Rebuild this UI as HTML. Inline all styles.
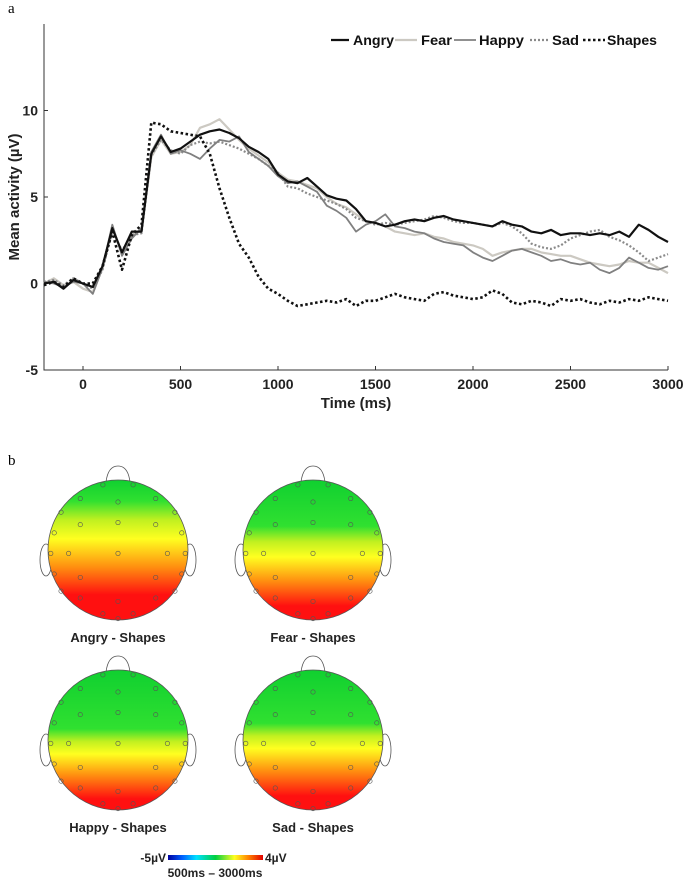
<!DOCTYPE html>
<html><head><meta charset="utf-8"><style>
body{margin:0;background:#fff;width:685px;height:883px;overflow:hidden;font-family:"Liberation Sans",Arial,sans-serif}
svg text{font-family:"Liberation Sans",Arial,sans-serif}
</style></head><body>
<svg id="root" width="685" height="883" viewBox="0 0 685 883">
<text x="8" y="13" font-size="15" style="font-family:'Liberation Serif',serif">a</text>
<text x="8" y="465" font-size="15" style="font-family:'Liberation Serif',serif">b</text>
<g id="chart"></g>
<g id="topos"></g>
</svg>
<script>
const times=[-200,-150,-100,-50,0,50,100,150,200,250,300,350,400,450,500,550,600,650,700,750,800,850,900,950,1000,1050,1100,1150,1200,1250,1300,1350,1400,1450,1500,1550,1600,1650,1700,1750,1800,1850,1900,1950,2000,2050,2100,2150,2200,2250,2300,2350,2400,2450,2500,2550,2600,2650,2700,2750,2800,2850,2900,2950,3000];
const angry=[0,0.1,-0.3,0.2,0,-0.2,1,3.2,1.8,3,3,7.5,8.5,7.6,7.8,8.2,8.6,8.8,8.9,8.7,8.4,7.9,7.6,7.2,6.3,5.9,5.8,6.1,5.6,5.1,4.9,4.8,4.3,3.6,3.5,3.3,3.4,3.6,3.7,3.6,3.8,3.9,3.7,3.6,3.5,3.4,3.3,3.6,3.4,3.3,3.0,2.9,3.1,2.8,2.9,2.9,2.8,2.9,2.8,3.0,2.7,3.4,3.1,2.7,2.4];
const fear=[0,0.3,-0.1,0.1,-0.3,-0.5,0.9,3.3,1.7,2.8,3.1,7.3,8.3,7.5,7.6,8.0,9.0,9.2,9.5,8.9,8.3,7.8,7.4,7.0,6.4,6.0,5.9,5.7,5.5,5.0,4.6,4.4,4.0,3.6,3.5,3.3,3.0,2.9,2.8,2.9,2.7,2.6,2.4,2.3,2.2,2.0,1.6,1.8,1.9,2.0,2.0,1.8,1.7,1.6,1.6,1.4,1.2,1.1,1.0,1.1,1.3,1.2,1.2,0.9,0.6];
const happy=[0.1,0,-0.2,0.1,0,-0.6,0.9,3.4,1.6,2.6,3.2,7.6,8.6,7.5,7.7,7.5,7.2,7.8,8.3,8.2,8.5,7.6,7.2,6.8,6.2,5.8,5.9,5.6,5.3,4.5,4.2,3.8,3.0,3.4,3.6,4.0,3.3,3.2,3.0,2.9,2.6,2.4,2.3,2.2,1.8,1.5,1.3,1.6,1.9,2.0,1.8,1.6,1.3,1.4,1.2,1.1,1.2,0.8,0.6,0.9,1.5,1.2,0.9,0.8,1.0];
const sad=[0.1,0.2,-0.1,0.3,0,-0.3,0.8,3.0,1.9,2.8,2.9,7.4,8.3,7.7,7.5,8.0,8.2,8.1,8.2,8.0,7.8,7.5,7.2,6.8,6.4,5.6,5.5,5.2,5.0,4.8,4.6,4.3,3.8,3.6,3.4,3.5,3.4,3.5,3.6,3.7,3.9,3.8,3.6,3.5,3.5,3.4,3.3,3.5,3.3,2.9,2.3,2.1,2.0,2.2,2.6,2.8,3.0,3.1,2.7,2.5,2.2,1.8,1.3,1.5,1.7];
const shapes=[-0.1,0.1,-0.2,0.3,0,0,1,3.0,0.8,2.8,3.4,9.3,9.2,8.8,8.7,8.6,8.5,7.5,5.5,3.8,2.3,1.5,0.4,-0.3,-0.6,-1.0,-1.3,-1.2,-1.1,-1.0,-1.1,-0.9,-1.3,-1.0,-1.0,-0.8,-0.6,-0.8,-0.9,-1.0,-0.6,-0.5,-0.7,-0.8,-0.9,-0.8,-0.4,-0.6,-1.1,-1.2,-1.0,-1.1,-1.3,-0.9,-1.0,-0.9,-1.1,-1.2,-1.0,-1.1,-0.9,-1.0,-0.8,-0.9,-1.0];
const xTicks=[0,500,1000,1500,2000,2500,3000];
const yTicks=[-5,0,5,10];
const seriesNames=["Angry","Fear","Happy","Sad","Shapes"];

const NS="http://www.w3.org/2000/svg";
function mk(tag,attrs,parent){const e=document.createElementNS(NS,tag);for(const k in attrs)e.setAttribute(k,attrs[k]);parent.appendChild(e);return e;}
const x0=44,x1=668,yTop=24,yBot=370;
const xs=t=>x0+(t+200)*(x1-x0)/3200;
const ys=v=>yBot-(v+5)*(yBot-yTop)/20;
const chart=document.getElementById('chart');
let ax=mk('path',{d:`M${x0},${yTop}V${yBot}H${x1}`,stroke:'#333',fill:'none','stroke-width':1},chart);


xTicks.forEach(t=>{const l=mk('line',{x1:xs(t),x2:xs(t),y1:yBot,y2:yBot-4,stroke:'#333'},chart);


const tx=mk('text',{x:xs(t),y:yBot+19,'text-anchor':'middle','font-size':14,'font-weight':'bold',fill:'#222'},chart);tx.textContent=t;

});
yTicks.forEach(v=>{const l=mk('line',{x1:x0,x2:x0+4,y1:ys(v),y2:ys(v),stroke:'#333'},chart);


const tx=mk('text',{x:x0-6,y:ys(v)+5,'text-anchor':'end','font-size':14,'font-weight':'bold',fill:'#222'},chart);tx.textContent=v;

});
let xt=mk('text',{x:356,y:408,'text-anchor':'middle','font-size':15,'font-weight':'bold',fill:'#222'},chart);xt.textContent='Time (ms)';


let yt=mk('text',{x:0,y:0,transform:'translate(19,197) rotate(-90)','text-anchor':'middle','font-size':15,'font-weight':'bold',fill:'#222'},chart);yt.textContent='Mean activity (µV)';


const styles=[{c:'#111',w:2.2,d:''},{c:'#ccc9c2',w:2.2,d:''},{c:'#808080',w:1.8,d:''},{c:'#8a8a8a',w:2.2,d:'2,2'},{c:'#111',w:2.6,d:'2.5,2.5'}];
const data=[angry,fear,happy,sad,shapes];
[1,3,2,0,4].forEach(i=>{const d=data[i].map((v,j)=>(j?'L':'M')+xs(times[j]).toFixed(1)+','+ys(v).toFixed(1)).join('');
const p=mk('path',{d,fill:'none',stroke:styles[i].c,'stroke-width':styles[i].w,'stroke-dasharray':styles[i].d,'stroke-linejoin':'round'},chart);

});
const legL=[[331,349,353,41],[395,417,421,31],[454,476,479,45],[530,549,552,27],[583,605,607,50]];
seriesNames.forEach((n,i)=>{const g=mk('g',{},chart);


const L=legL[i];
mk('line',{x1:L[0],x2:L[1],y1:40,y2:40,stroke:styles[i].c,'stroke-width':styles[i].w,'stroke-dasharray':styles[i].d},g);
const t=mk('text',{x:L[2],y:45,'font-size':14,'font-weight':'bold',fill:'#111',textLength:L[3],lengthAdjust:'spacingAndGlyphs'},g);t.textContent=n;});

// topomaps
const topos=document.getElementById('topos');
const defs=mk('defs',{},topos);
const grads=[[0.15,0.42,0.62,0.82],[0.33,0.55,0.72,0.9],[0.42,0.6,0.75,0.92],[0.38,0.56,0.72,0.9]];
grads.forEach((g,i)=>{const lg=mk('linearGradient',{id:'g'+i,x1:0,y1:0,x2:0,y2:1},defs);
[['#10d030',0],['#30e030',g[0]],['#c0f020',(g[0]+g[1])/2],['#ffff20',g[1]],['#ff9010',g[2]],['#ff1010',g[3]]].forEach(s=>mk('stop',{offset:s[1],'stop-color':s[0]},lg));});
const heads=[[118,550,'Angry - Shapes'],[313,550,'Fear - Shapes'],[118,740,'Happy - Shapes'],[313,740,'Sad - Shapes']];
const elec=[[-0.22,-0.95],[0.22,-0.95],[-0.55,-0.75],[0,-0.7],[0.55,-0.75],[-0.83,-0.55],[0.83,-0.55],[-0.55,-0.37],[0,-0.4],[0.55,-0.37],[-0.93,-0.25],[0.93,-0.25],[-0.98,0.05],[-0.72,0.05],[0,0.05],[0.72,0.05],[0.98,0.05],[-0.93,0.35],[-0.55,0.4],[0.55,0.4],[0.93,0.35],[-0.83,0.6],[0.83,0.6],[-0.55,0.7],[0,0.75],[0.55,0.7],[-0.22,0.93],[0.22,0.93],[0,1]];
heads.forEach((h,i)=>{const [cx,cy,lab]=h,r=70;const g=mk('g',{},topos);


mk('path',{d:`M${cx-12},${cy-r+2}Q${cx-10},${cy-r-14} ${cx},${cy-r-14}Q${cx+10},${cy-r-14} ${cx+12},${cy-r+2}`,fill:'#fff',stroke:'#555','stroke-width':0.8},g);
mk('ellipse',{cx:cx-r-2,cy:cy+10,rx:6,ry:16,fill:'#fff',stroke:'#555','stroke-width':0.8},g);
mk('ellipse',{cx:cx+r+2,cy:cy+10,rx:6,ry:16,fill:'#fff',stroke:'#555','stroke-width':0.8},g);
mk('circle',{cx,cy,r,fill:`url(#g${i})`,stroke:'#555','stroke-width':0.8},g);
elec.forEach(e=>mk('circle',{cx:cx+e[0]*r*0.98,cy:cy+e[1]*r*0.98,r:2.2,fill:'none',stroke:'#555','stroke-width':0.6},g));
const t=mk('text',{x:cx,y:cy+92,'text-anchor':'middle','font-size':13,'font-weight':'bold',fill:'#222'},g);t.textContent=lab;});
// colorbar
const cb=mk('linearGradient',{id:'cb',x1:0,y1:0,x2:1,y2:0},defs);
[['#0000a0',0],['#0060ff',0.15],['#00e0ff',0.3],['#00d040',0.5],['#ffff20',0.7],['#ff8000',0.85],['#e00000',1]].forEach(s=>mk('stop',{offset:s[1],'stop-color':s[0]},cb));
const cbg=mk('g',{},topos);


mk('rect',{x:168,y:855,width:95,height:5,fill:'url(#cb)'},cbg);
let t1=mk('text',{x:166,y:862,'text-anchor':'end','font-size':12,'font-weight':'bold',fill:'#222'},cbg);t1.textContent='-5µV';
let t2=mk('text',{x:265,y:862,'font-size':12,'font-weight':'bold',fill:'#222'},cbg);t2.textContent='4µV';
let t3=mk('text',{x:215,y:877,'text-anchor':'middle','font-size':12,'font-weight':'bold',fill:'#222'},cbg);t3.textContent='500ms – 3000ms';
</script>
</body></html>
